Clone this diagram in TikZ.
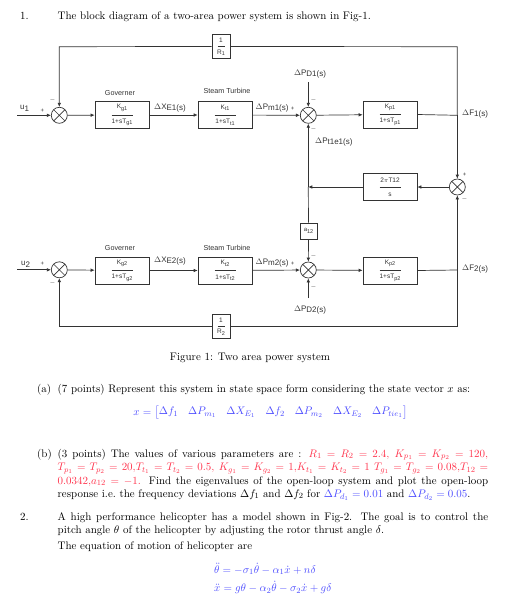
\documentclass[tikz,border=0pt]{standalone}
\usepackage{amsmath}
\usepackage{fontspec}
\newfontfamily\diag{Liberation Sans}
\usetikzlibrary{arrows.meta}
\definecolor{myred}{rgb}{1,0.2,0.3}
\definecolor{myblue}{rgb}{0.3,0.3,1}
\definecolor{ink}{rgb}{0.2,0.2,0.2}
\newcommand\lo[1]{\raisebox{-1.8pt}{#1}}
\newcommand\sbx[1]{\raisebox{-1.5pt}{\fontsize{5.5}{6}\selectfont #1}}
\newcommand\tfb[5]{%
  \node[blk] (#1) at (#2,#3) {};
  \node[small] (#1n) at ([yshift=7pt]#1.center) {#4};
  \draw[ink] ([xshift=-10.5pt]#1.center) -- ([xshift=10.5pt]#1.center);
  \node[small] (#1d) at ([yshift=-7.5pt]#1.center) {#5};}
\newcommand\rb[4]{%
  \node[blk,minimum width=18pt,minimum height=24pt] (#1) at (#2,#3) {};
  \node[small] (#1n) at ([yshift=6pt]#1.center) {1};
  \draw[ink] ([xshift=-3.5pt]#1.center) -- ([xshift=3.5pt]#1.center);
  \node[small] (#1d) at ([yshift=-6.5pt]#1.center) {#4};}
\begin{document}
\begin{tikzpicture}[x=1pt,y=-1pt,
  blk/.style={draw=ink,line width=0.7pt,minimum width=54pt,minimum height=27pt,inner sep=0},
  sumn/.style={draw=ink,line width=0.7pt,circle,minimum size=16pt,inner sep=0,
    path picture={\draw[ink,line width=0.7pt] (path picture bounding box.south west)--(path picture bounding box.north east)
      (path picture bounding box.north west)--(path picture bounding box.south east);}},
  sig/.style={draw=ink,line width=0.7pt,-{Latex[length=4pt,width=3.6pt]}},
  ln/.style={draw=ink,line width=0.7pt},
  lbl/.style={font=\diag\fontsize{8}{9}\selectfont,inner sep=0,text=ink},
  hd/.style={font=\diag\fontsize{7.2}{8}\selectfont,inner sep=0,text=ink},
  small/.style={font=\diag\fontsize{6.5}{7}\selectfont,inner sep=0,text=ink},
  sgn/.style={font=\diag\fontsize{6}{7}\selectfont,inner sep=0,text=ink},
  body/.style={font=\fontsize{10.95}{13.6}\selectfont,inner sep=0,anchor=base west}]
\useasboundingbox (0,0) rectangle (521,610);
% ---------- text ----------
\node[body] (n1) at (20,19.5) {1.};
\node[body] (t1) at (57.5,19.5) {The block diagram of a two-area power system is shown in Fig-1.};
% ---------- blocks ----------
\rb{r1}{221}{46.5}{R\sbx{1}}
\rb{r2}{221}{326}{R\sbx{2}}
\tfb{g1}{122}{115}{K\sbx{g1}}{1+sT\sbx{g1}}
\tfb{st1}{225}{115}{K\sbx{t1}}{1+sT\sbx{t1}}
\tfb{p1}{390}{114.5}{K\sbx{p1}}{1+sT\sbx{p1}}
\tfb{tt}{390}{187}{2$\pi$T12}{s}
\tfb{g2}{122}{270.5}{K\sbx{g2}}{1+sT\sbx{g2}}
\tfb{st2}{225}{270.5}{K\sbx{t2}}{1+sT\sbx{t2}}
\tfb{p2}{390}{270.5}{K\sbx{p2}}{1+sT\sbx{p2}}
\node[blk,minimum width=17pt,minimum height=16pt,font=\diag\fontsize{6}{7}\selectfont,text=ink] (a12) at (308.5,231) {a\sbx{12}};
% ---------- sums ----------
\node[sumn] (s1) at (59.3,115.3) {};
\node[sumn] (s2) at (308.3,115.3) {};
\node[sumn] (s3) at (457.3,187) {};
\node[sumn] (s4) at (308.3,270) {};
\node[sumn] (s5) at (59.3,269.8) {};
% ---------- coordinates ----------
\coordinate (u1) at (17,115.3);
\coordinate (u2) at (17,269.8);
\coordinate (pd1) at (308.3,82);
\coordinate (pd2) at (308.3,298);
\coordinate (f1) at (457.3,115.3);
\coordinate (f2) at (457.3,270);
\coordinate (tr) at (457.3,46.7);
\coordinate (tl) at (59.3,46.7);
\coordinate (br) at (457.3,326);
\coordinate (bl) at (59.3,326);
\coordinate (jn) at (308.3,187);
% ---------- connectors ----------
\draw[sig] (u1) -- (s1);
\draw[sig] (s1) -- (g1);
\draw[sig] (g1) -- (st1);
\draw[sig] (st1) -- (s2);
\draw[sig] (pd1) -- (s2);
\draw[sig] (s2) -- (p1);
\draw[ln] (p1.east) -- (f1);
\draw[sig] (f1) -- (s3);
\draw[ln] (f1) -- (tr) -- (r1.east);
\draw[sig] (r1.west) -- (tl) -- (s1);
\draw[sig] (s3) -- (tt);
\draw[sig] (tt) -- (jn);
\draw[sig] (jn) -- (s2);
\draw[ln] (jn) -- (a12);
\draw[sig] (a12) -- (s4);
\draw[sig] (pd2) -- (s4);
\draw[sig] (u2) -- (s5);
\draw[sig] (s5) -- (g2);
\draw[sig] (g2) -- (st2);
\draw[sig] (st2) -- (s4);
\draw[sig] (s4) -- (p2);
\draw[ln] (p2.east) -- (f2);
\draw[sig] (f2) -- (s3);
\draw[ln] (f2) -- (br) -- (r2.east);
\draw[sig] (r2.west) -- (bl) -- (s5);
% ---------- labels ----------
\node[hd] (lg1) at (120,93) {Governer};
\node[hd] (lt1) at (227,91) {Steam Turbine};
\node[hd] (lg2) at (120,248) {Governer};
\node[hd] (lt2) at (227,248) {Steam Turbine};
\node[lbl,anchor=west] (lu1) at (20,108) {u\lo{1}};
\node[lbl,anchor=west] (lu2) at (21,264) {u\lo{2}};
\node[lbl,anchor=west] (lx1) at (154,108) {$\Delta$X\lo{E1(s)}};
\node[lbl,anchor=west] (lx2) at (154,261) {$\Delta$X\lo{E2(s)}};
\node[lbl,anchor=west] (lm1) at (255.5,108) {$\Delta$P\lo{m1(s)}};
\node[lbl,anchor=west] (lm2) at (255.5,263) {$\Delta$P\lo{m2(s)}};
\node[lbl] (ld1) at (310,74) {$\Delta$P\lo{D1(s)}};
\node[lbl] (ld2) at (310,310) {$\Delta$P\lo{D2(s)}};
\node[lbl,anchor=west] (lte) at (315,142) {$\Delta$P\lo{t1e1(s)}};
\node[lbl,anchor=west] (lf1) at (462,114) {$\Delta$F\lo{1(s)}};
\node[lbl,anchor=west] (lf2) at (462,269) {$\Delta$F\lo{2(s)}};
% signs
\node[sgn] at (42.5,111) {+};
\node[sgn] at (52.5,100) {$-$};
\node[sgn] at (292.5,109) {+};
\node[sgn] at (313.5,100) {$-$};
\node[sgn] at (313.5,129) {$-$};
\node[sgn] at (464.5,175) {+};
\node[sgn] at (464.5,199) {$-$};
\node[sgn] at (292.5,264) {+};
\node[sgn] at (313.5,256) {$-$};
\node[sgn] at (313.5,287) {$-$};
\node[sgn] at (42.5,264) {+};
\node[sgn] at (52.5,283) {$-$};
% ---------- text below ----------
\node[body,anchor=base] (cap) at (250,360) {Figure 1: Two area power system};
\node[body] (la) at (37,392) {(a)};
\node[body] (ta) at (57.5,392) {(7 points) Represent this system in state space form considering the state vector $x$ as:};
\node[body,anchor=base] (xv) at (270.5,415) {\color{myblue}$x = \begin{bmatrix}\Delta f_1 & \Delta P_{m_1} & \Delta X_{E_1} & \Delta f_2 & \Delta P_{m_2} & \Delta X_{E_2} & \Delta P_{tie_1}\end{bmatrix}$};
\node[body] (lb) at (37,457) {(b)};
\node[body] (b1) at (57.5,457) {\makebox[430.5pt][s]{(3 points) The values of various parameters are : \textcolor{myred}{$R_1 = R_2 = 2.4$, $K_{p_1} = K_{p_2} = 120$,}}};
\node[body] (b2) at (57.5,470.5) {\makebox[430.5pt][s]{\color{myred}$T_{p_1} = T_{p_2} = 20$,$T_{t_1} = T_{t_2} = 0.5$, $K_{g_1} = K_{g_2} = 1$,$K_{t_1} = K_{t_2} = 1$ $T_{g_1} = T_{g_2} = 0.08$,$T_{12} =$}};
\node[body] (b3) at (57.5,484) {\makebox[430.5pt][s]{\textcolor{myred}{$0.0342$,$a_{12} = -1$.} Find the eigenvalues of the open-loop system and plot the open-loop}};
\node[body] (b4) at (57.5,497.3) {response i.e.\ the frequency deviations $\Delta f_1$ and $\Delta f_2$ for \textcolor{myblue}{$\Delta P_{d_1} = 0.01$} and \textcolor{myblue}{$\Delta P_{d_2} = 0.05$}.};
\node[body] (n2) at (20,520) {2.};
\node[body] (c1) at (57.5,520) {\makebox[430.5pt][s]{A high performance helicopter has a model shown in Fig-2. The goal is to control the}};
\node[body] (c2) at (57.5,533.3) {pitch angle $\theta$ of the helicopter by adjusting the rotor thrust angle $\delta$.};
\node[body] (c3) at (57.5,549.3) {The equation of motion of helicopter are};
\node[body] (e1) at (214,573) {\color{myblue}$\ddot\theta = -\sigma_1\dot\theta - \alpha_1\dot x + n\delta$};
\node[body] (e2) at (214,591.7) {\color{myblue}$\ddot x = g\theta - \alpha_2\dot\theta - \sigma_2\dot x + g\delta$};
\end{tikzpicture}
\end{document}
